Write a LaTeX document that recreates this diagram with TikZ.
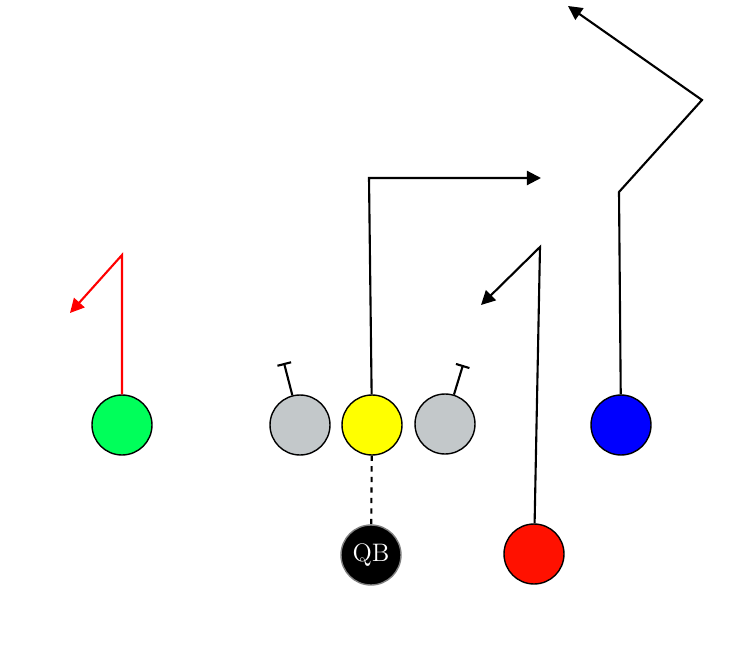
\documentclass[tikz,border=0pt]{standalone}
\usetikzlibrary{arrows.meta, positioning, calc}
\definecolor{grn}{HTML}{00FF5A}
\definecolor{gry}{HTML}{C3C8CA}
\definecolor{ylw}{HTML}{FFFF00}
\definecolor{blu}{HTML}{0000FF}
\definecolor{rd}{HTML}{FF1100}
\tikzset{
    player/.style={circle, draw=black, line width=0.8pt, minimum size=1.2cm, inner sep=0pt},
    route/.style={line width=1.2pt, -{Triangle[length=8pt,width=8pt]}},
    blockline/.style={line width=1.2pt, -{Bar[width=8pt]}}
}
\begin{document}
\begin{tikzpicture}[x=0.02cm, y=-0.02cm]
    \useasboundingbox (0,0) rectangle (750,655);
    \node[player, fill=grn] (wr) at (122,425) {};
    \node[player, fill=gry] (lg) at (300,425) {};
    \node[player, fill=ylw] (c) at (372,425) {};
    \node[player, fill=gry] (rg) at (445,424) {};
    \node[player, fill=blu] (te) at (621,425) {};
    \node[player, fill=black, draw=gray, text=white, font=\Large] (qb) at (371,555) {QB};
    \node[player, fill=rd] (rb) at (534,554) {};

    \coordinate (wr1) at (122,255);
    \coordinate (wr2) at (70,313);
    \coordinate (lg1) at (284,363);
    \coordinate (rg1) at (463,365);
    \coordinate (c1) at (369,178);
    \coordinate (c2) at (541,178);
    \coordinate (rb1) at (540,247);
    \coordinate (rb2) at (481,305);
    \coordinate (te1) at (619,192);
    \coordinate (te2) at (702,100);
    \coordinate (te3) at (568,6);

    \draw[route, red] (wr) -- (wr1) -- (wr2);
    \draw[blockline] (lg) -- (lg1);
    \draw[blockline] (rg) -- (rg1);
    \draw[route] (c) -- (c1) -- (c2);
    \draw[route] (rb) -- (rb1) -- (rb2);
    \draw[route] (te) -- (te1) -- (te2) -- (te3);
    \draw[line width=1.2pt, dashed] (c) -- (qb);
\end{tikzpicture}
\end{document}
